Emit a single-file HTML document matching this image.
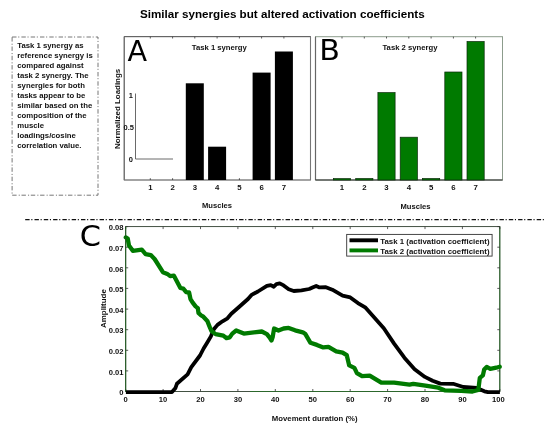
<!DOCTYPE html>
<html><head><meta charset="utf-8"><title>Figure</title>
<style>html,body{margin:0;padding:0;background:#fff;width:550px;height:429px;overflow:hidden}</style></head>
<body>
<svg width="550" height="429" viewBox="0 0 550 429" style="position:absolute;left:0;top:0;font-family:'Liberation Sans',Arial,sans-serif;font-weight:bold">
<rect width="550" height="429" fill="#fff"/>
<text x="282.3" y="18.2" font-size="11.65" text-anchor="middle" fill="#000">Similar synergies but altered activation coefficients</text>
<rect x="12.1" y="37" width="85.9" height="158.2" fill="none" stroke="#4a4a4a" stroke-width="0.75" stroke-dasharray="4.4 1.7 1.1 2.1"/>
<text x="17.3" y="47.9" font-size="7.75" fill="#111">Task 1 synergy as</text>
<text x="17.3" y="57.9" font-size="7.75" fill="#111">reference synergy is</text>
<text x="17.3" y="67.9" font-size="7.75" fill="#111">compared against</text>
<text x="17.3" y="77.9" font-size="7.75" fill="#111">task 2 synergy. The</text>
<text x="17.3" y="87.9" font-size="7.75" fill="#111">synergies for both</text>
<text x="17.3" y="97.9" font-size="7.75" fill="#111">tasks appear to be</text>
<text x="17.3" y="107.9" font-size="7.75" fill="#111">similar based on the</text>
<text x="17.3" y="117.9" font-size="7.75" fill="#111">composition of the</text>
<text x="17.3" y="127.9" font-size="7.75" fill="#111">muscle</text>
<text x="17.3" y="137.9" font-size="7.75" fill="#111">loadings/cosine</text>
<text x="17.3" y="147.9" font-size="7.75" fill="#111">correlation value.</text>
<line x1="25.2" y1="219.6" x2="544.5" y2="219.6" stroke="#111" stroke-width="1.2" stroke-dasharray="4.4 1.7 1.1 2.1"/>
<rect x="124.3" y="36.7" width="186.2" height="143.3" fill="#fff" stroke="#333" stroke-width="0.9"/>
<line x1="124.3" y1="36.7" x2="124.3" y2="180.0" stroke="#777" stroke-width="1.3"/>
<line x1="310.5" y1="36.7" x2="310.5" y2="180.0" stroke="#777" stroke-width="1.1"/>
<line x1="150.3" y1="36.7" x2="150.3" y2="38.5" stroke="#333" stroke-width="0.8"/>
<line x1="150.3" y1="180.0" x2="150.3" y2="178.2" stroke="#333" stroke-width="0.8"/>
<line x1="172.6" y1="36.7" x2="172.6" y2="38.5" stroke="#333" stroke-width="0.8"/>
<line x1="172.6" y1="180.0" x2="172.6" y2="178.2" stroke="#333" stroke-width="0.8"/>
<line x1="194.8" y1="36.7" x2="194.8" y2="38.5" stroke="#333" stroke-width="0.8"/>
<line x1="194.8" y1="180.0" x2="194.8" y2="178.2" stroke="#333" stroke-width="0.8"/>
<line x1="217.1" y1="36.7" x2="217.1" y2="38.5" stroke="#333" stroke-width="0.8"/>
<line x1="217.1" y1="180.0" x2="217.1" y2="178.2" stroke="#333" stroke-width="0.8"/>
<line x1="239.4" y1="36.7" x2="239.4" y2="38.5" stroke="#333" stroke-width="0.8"/>
<line x1="239.4" y1="180.0" x2="239.4" y2="178.2" stroke="#333" stroke-width="0.8"/>
<line x1="261.6" y1="36.7" x2="261.6" y2="38.5" stroke="#333" stroke-width="0.8"/>
<line x1="261.6" y1="180.0" x2="261.6" y2="178.2" stroke="#333" stroke-width="0.8"/>
<line x1="283.9" y1="36.7" x2="283.9" y2="38.5" stroke="#333" stroke-width="0.8"/>
<line x1="283.9" y1="180.0" x2="283.9" y2="178.2" stroke="#333" stroke-width="0.8"/>
<rect x="185.8" y="83.3" width="18" height="96.7" fill="#000"/>
<rect x="208.1" y="146.7" width="18" height="33.3" fill="#000"/>
<rect x="252.6" y="72.6" width="18" height="107.4" fill="#000"/>
<rect x="274.9" y="51.5" width="18" height="128.5" fill="#000"/>
<text x="150.3" y="190.4" font-size="7.8" text-anchor="middle" fill="#111">1</text>
<text x="172.6" y="190.4" font-size="7.8" text-anchor="middle" fill="#111">2</text>
<text x="194.8" y="190.4" font-size="7.8" text-anchor="middle" fill="#111">3</text>
<text x="217.1" y="190.4" font-size="7.8" text-anchor="middle" fill="#111">4</text>
<text x="239.4" y="190.4" font-size="7.8" text-anchor="middle" fill="#111">5</text>
<text x="261.6" y="190.4" font-size="7.8" text-anchor="middle" fill="#111">6</text>
<text x="283.9" y="190.4" font-size="7.8" text-anchor="middle" fill="#111">7</text>
<text x="217" y="208.4" font-size="7.6" text-anchor="middle" fill="#111">Muscles</text>
<text x="219.3" y="50" font-size="7.7" text-anchor="middle" fill="#111">Task 1 synergy</text>
<text x="127.4" y="60.8" font-size="28.6" font-weight="normal" font-family="'DejaVu Sans',sans-serif" fill="#000">A</text>
<text transform="translate(120,108.9) rotate(-90)" font-size="7.95" text-anchor="middle" fill="#111">Normalized Loadings</text>
<path d="M135.5,93.5 V159 H173" fill="none" stroke="#444" stroke-width="0.8"/>
<text x="133" y="97.8" font-size="7.5" text-anchor="end" fill="#111">1</text>
<text x="134" y="130" font-size="7.5" text-anchor="end" fill="#111">0.5</text>
<text x="133" y="162" font-size="7.5" text-anchor="end" fill="#111">0</text>
<rect x="315.5" y="36.7" width="187.0" height="143.3" fill="#fff" stroke="#8c9c8c" stroke-width="1"/>
<line x1="315.5" y1="36.7" x2="315.5" y2="180.0" stroke="#666" stroke-width="1.2"/>
<line x1="315.5" y1="180.0" x2="502.5" y2="180.0" stroke="#222" stroke-width="1"/>
<line x1="342.0" y1="36.7" x2="342.0" y2="38.5" stroke="#333" stroke-width="0.8"/>
<line x1="364.3" y1="36.7" x2="364.3" y2="38.5" stroke="#333" stroke-width="0.8"/>
<line x1="386.5" y1="36.7" x2="386.5" y2="38.5" stroke="#333" stroke-width="0.8"/>
<line x1="408.8" y1="36.7" x2="408.8" y2="38.5" stroke="#333" stroke-width="0.8"/>
<line x1="431.1" y1="36.7" x2="431.1" y2="38.5" stroke="#333" stroke-width="0.8"/>
<line x1="453.4" y1="36.7" x2="453.4" y2="38.5" stroke="#333" stroke-width="0.8"/>
<line x1="475.6" y1="36.7" x2="475.6" y2="38.5" stroke="#333" stroke-width="0.8"/>
<rect x="333.4" y="178.6" width="17.2" height="1.4" fill="#007a00" stroke="#0a2a0a" stroke-width="0.7"/>
<rect x="355.7" y="178.5" width="17.2" height="1.5" fill="#007a00" stroke="#0a2a0a" stroke-width="0.7"/>
<rect x="377.9" y="92.6" width="17.2" height="87.4" fill="#007a00" stroke="#0a2a0a" stroke-width="0.7"/>
<rect x="400.2" y="137.2" width="17.2" height="42.8" fill="#007a00" stroke="#0a2a0a" stroke-width="0.7"/>
<rect x="422.5" y="178.5" width="17.2" height="1.5" fill="#007a00" stroke="#0a2a0a" stroke-width="0.7"/>
<rect x="444.8" y="72" width="17.2" height="108.0" fill="#007a00" stroke="#0a2a0a" stroke-width="0.7"/>
<rect x="467.0" y="41.5" width="17.2" height="138.5" fill="#007a00" stroke="#0a2a0a" stroke-width="0.7"/>
<text x="342.0" y="190.4" font-size="7.8" text-anchor="middle" fill="#111">1</text>
<text x="364.3" y="190.4" font-size="7.8" text-anchor="middle" fill="#111">2</text>
<text x="386.5" y="190.4" font-size="7.8" text-anchor="middle" fill="#111">3</text>
<text x="408.8" y="190.4" font-size="7.8" text-anchor="middle" fill="#111">4</text>
<text x="431.1" y="190.4" font-size="7.8" text-anchor="middle" fill="#111">5</text>
<text x="453.4" y="190.4" font-size="7.8" text-anchor="middle" fill="#111">6</text>
<text x="475.6" y="190.4" font-size="7.8" text-anchor="middle" fill="#111">7</text>
<text x="415.5" y="208.8" font-size="7.6" text-anchor="middle" fill="#111">Muscles</text>
<text x="410" y="50" font-size="7.7" text-anchor="middle" fill="#111">Task 2 synergy</text>
<text transform="translate(319.2,59.7) scale(1.055,1)" font-size="28.6" font-weight="normal" font-family="'DejaVu Sans',sans-serif" fill="#000">B</text>
<rect x="125.7" y="226.6" width="374.1" height="164.9" fill="#fff" stroke="#2f3f2f" stroke-width="0.9"/>
<line x1="499.8" y1="226.6" x2="499.8" y2="391.5" stroke="#2a6a2a" stroke-width="0.9"/>
<line x1="250" y1="391.5" x2="499.8" y2="391.5" stroke="#2a6a2a" stroke-width="0.9"/>
<line x1="125.7" y1="226.6" x2="125.7" y2="229.1" stroke="#333" stroke-width="0.8"/>
<line x1="125.7" y1="391.5" x2="125.7" y2="389.0" stroke="#333" stroke-width="0.8"/>
<text x="125.7" y="402.3" font-size="7.6" text-anchor="middle" fill="#111">0</text>
<line x1="163.1" y1="226.6" x2="163.1" y2="229.1" stroke="#333" stroke-width="0.8"/>
<line x1="163.1" y1="391.5" x2="163.1" y2="389.0" stroke="#333" stroke-width="0.8"/>
<text x="163.1" y="402.3" font-size="7.6" text-anchor="middle" fill="#111">10</text>
<line x1="200.5" y1="226.6" x2="200.5" y2="229.1" stroke="#333" stroke-width="0.8"/>
<line x1="200.5" y1="391.5" x2="200.5" y2="389.0" stroke="#333" stroke-width="0.8"/>
<text x="200.5" y="402.3" font-size="7.6" text-anchor="middle" fill="#111">20</text>
<line x1="237.9" y1="226.6" x2="237.9" y2="229.1" stroke="#333" stroke-width="0.8"/>
<line x1="237.9" y1="391.5" x2="237.9" y2="389.0" stroke="#333" stroke-width="0.8"/>
<text x="237.9" y="402.3" font-size="7.6" text-anchor="middle" fill="#111">30</text>
<line x1="275.3" y1="226.6" x2="275.3" y2="229.1" stroke="#333" stroke-width="0.8"/>
<line x1="275.3" y1="391.5" x2="275.3" y2="389.0" stroke="#333" stroke-width="0.8"/>
<text x="275.3" y="402.3" font-size="7.6" text-anchor="middle" fill="#111">40</text>
<line x1="312.8" y1="226.6" x2="312.8" y2="229.1" stroke="#333" stroke-width="0.8"/>
<line x1="312.8" y1="391.5" x2="312.8" y2="389.0" stroke="#333" stroke-width="0.8"/>
<text x="312.8" y="402.3" font-size="7.6" text-anchor="middle" fill="#111">50</text>
<line x1="350.2" y1="226.6" x2="350.2" y2="229.1" stroke="#333" stroke-width="0.8"/>
<line x1="350.2" y1="391.5" x2="350.2" y2="389.0" stroke="#333" stroke-width="0.8"/>
<text x="350.2" y="402.3" font-size="7.6" text-anchor="middle" fill="#111">60</text>
<line x1="387.6" y1="226.6" x2="387.6" y2="229.1" stroke="#333" stroke-width="0.8"/>
<line x1="387.6" y1="391.5" x2="387.6" y2="389.0" stroke="#333" stroke-width="0.8"/>
<text x="387.6" y="402.3" font-size="7.6" text-anchor="middle" fill="#111">70</text>
<line x1="425.0" y1="226.6" x2="425.0" y2="229.1" stroke="#333" stroke-width="0.8"/>
<line x1="425.0" y1="391.5" x2="425.0" y2="389.0" stroke="#333" stroke-width="0.8"/>
<text x="425.0" y="402.3" font-size="7.6" text-anchor="middle" fill="#111">80</text>
<line x1="462.4" y1="226.6" x2="462.4" y2="229.1" stroke="#333" stroke-width="0.8"/>
<line x1="462.4" y1="391.5" x2="462.4" y2="389.0" stroke="#333" stroke-width="0.8"/>
<text x="462.4" y="402.3" font-size="7.6" text-anchor="middle" fill="#111">90</text>
<line x1="499.8" y1="226.6" x2="499.8" y2="229.1" stroke="#333" stroke-width="0.8"/>
<line x1="499.8" y1="391.5" x2="499.8" y2="389.0" stroke="#333" stroke-width="0.8"/>
<text x="498.4" y="402.3" font-size="7.6" text-anchor="middle" fill="#111">100</text>
<line x1="125.7" y1="391.5" x2="128.2" y2="391.5" stroke="#333" stroke-width="0.8"/>
<line x1="499.8" y1="391.5" x2="497.3" y2="391.5" stroke="#333" stroke-width="0.8"/>
<text x="123.5" y="395.2" font-size="7.6" text-anchor="end" fill="#111">0</text>
<line x1="125.7" y1="370.9" x2="128.2" y2="370.9" stroke="#333" stroke-width="0.8"/>
<line x1="499.8" y1="370.9" x2="497.3" y2="370.9" stroke="#333" stroke-width="0.8"/>
<text x="123.5" y="374.6" font-size="7.6" text-anchor="end" fill="#111">0.01</text>
<line x1="125.7" y1="350.3" x2="128.2" y2="350.3" stroke="#333" stroke-width="0.8"/>
<line x1="499.8" y1="350.3" x2="497.3" y2="350.3" stroke="#333" stroke-width="0.8"/>
<text x="123.5" y="354.0" font-size="7.6" text-anchor="end" fill="#111">0.02</text>
<line x1="125.7" y1="329.7" x2="128.2" y2="329.7" stroke="#333" stroke-width="0.8"/>
<line x1="499.8" y1="329.7" x2="497.3" y2="329.7" stroke="#333" stroke-width="0.8"/>
<text x="123.5" y="333.4" font-size="7.6" text-anchor="end" fill="#111">0.03</text>
<line x1="125.7" y1="309.1" x2="128.2" y2="309.1" stroke="#333" stroke-width="0.8"/>
<line x1="499.8" y1="309.1" x2="497.3" y2="309.1" stroke="#333" stroke-width="0.8"/>
<text x="123.5" y="312.8" font-size="7.6" text-anchor="end" fill="#111">0.04</text>
<line x1="125.7" y1="288.4" x2="128.2" y2="288.4" stroke="#333" stroke-width="0.8"/>
<line x1="499.8" y1="288.4" x2="497.3" y2="288.4" stroke="#333" stroke-width="0.8"/>
<text x="123.5" y="292.1" font-size="7.6" text-anchor="end" fill="#111">0.05</text>
<line x1="125.7" y1="267.8" x2="128.2" y2="267.8" stroke="#333" stroke-width="0.8"/>
<line x1="499.8" y1="267.8" x2="497.3" y2="267.8" stroke="#333" stroke-width="0.8"/>
<text x="123.5" y="271.5" font-size="7.6" text-anchor="end" fill="#111">0.06</text>
<line x1="125.7" y1="247.2" x2="128.2" y2="247.2" stroke="#333" stroke-width="0.8"/>
<line x1="499.8" y1="247.2" x2="497.3" y2="247.2" stroke="#333" stroke-width="0.8"/>
<text x="123.5" y="250.9" font-size="7.6" text-anchor="end" fill="#111">0.07</text>
<line x1="125.7" y1="226.6" x2="128.2" y2="226.6" stroke="#333" stroke-width="0.8"/>
<line x1="499.8" y1="226.6" x2="497.3" y2="226.6" stroke="#333" stroke-width="0.8"/>
<text x="123.5" y="230.3" font-size="7.6" text-anchor="end" fill="#111">0.08</text>
<text transform="translate(106.2,308.6) rotate(-90)" font-size="7.95" text-anchor="middle" fill="#111">Amplitude</text>
<text x="314.7" y="421.3" font-size="7.75" text-anchor="middle" fill="#111">Movement duration (%)</text>
<text transform="translate(79.7,245.8) scale(1.064,1)" font-size="28.6" font-weight="normal" font-family="'DejaVu Sans',sans-serif" fill="#000">C</text>
<path d="M125.9,392.1 L172.0,392.1 L175.3,388.3 L176.9,383.8 L187.6,374.4 L191.3,367.2 L200.0,355.5 L203.6,348.5 L207.3,342.5 L210.9,336.4 L213.8,329.3 L217.5,324.9 L222.5,321.3 L227.5,318.3 L231.3,313.8 L239.3,306.8 L248.0,299.0 L251.5,294.9 L257.9,291.5 L266.9,285.9 L270.8,285.1 L273.8,286.7 L276.4,284.1 L279.7,283.3 L283.6,285.4 L288.7,289.2 L293.8,291.0 L301.5,290.3 L309.2,289.0 L313.1,287.2 L316.2,285.9 L319.5,287.4 L325.9,287.2 L332.3,289.7 L342.6,295.6 L350.3,297.4 L357.9,303.1 L365.6,307.7 L373.6,316.7 L383.8,328.2 L394.1,343.6 L404.4,357.7 L414.6,369.2 L424.9,376.9 L432.6,380.8 L440.3,383.6 L453.1,383.8 L463.3,387.0 L476.7,387.9 L484.4,391.3 L488.0,392.1 L499.9,392.1" fill="none" stroke="#000" stroke-width="3.8" stroke-linejoin="round" stroke-linecap="butt"/>
<path d="M125.8,237.4 L127.7,238.5 L129.0,245.6 L132.8,250.8 L141.8,249.7 L145.6,254.1 L150.8,255.1 L154.6,259.0 L162.9,272.2 L167.3,273.9 L170.2,276.1 L173.8,275.6 L180.4,288.0 L183.3,288.6 L186.2,292.1 L189.1,292.5 L190.5,299.1 L192.7,302.7 L195.6,306.4 L197.8,308.1 L198.5,312.9 L200.7,315.1 L202.9,316.3 L207.3,320.9 L210.2,328.2 L211.5,331.0 L215.6,334.1 L223.3,335.6 L226.4,338.2 L229.7,337.4 L232.3,333.6 L236.2,330.5 L243.8,333.6 L261.8,331.5 L266.9,334.1 L269.5,337.4 L271.5,340.5 L272.6,337.4 L274.1,328.5 L278.5,330.5 L283.6,328.5 L288.7,327.9 L295.1,330.3 L302.8,332.3 L305.4,334.1 L310.5,342.8 L316.9,344.9 L323.3,347.4 L328.5,346.9 L336.2,351.3 L342.6,352.6 L346.7,355.1 L349.2,365.4 L354.4,367.9 L356.9,373.1 L362.1,376.2 L369.7,375.6 L381.3,382.6 L394.1,382.6 L409.5,384.6 L413.3,383.8 L425.4,385.6 L438.2,387.7 L444.6,390.3 L461.3,390.8 L472.5,391.5 L478.3,390.0 L479.8,377.9 L482.9,375.4 L484.2,369.5 L486.7,366.9 L490.3,368.8 L496.2,367.7 L499.7,366.7" fill="none" stroke="#007a00" stroke-width="4.3" stroke-linejoin="round" stroke-linecap="round"/>
<line x1="125.7" y1="226.6" x2="125.7" y2="391.5" stroke="#1a5a1a" stroke-width="0.9"/>
<rect x="346.7" y="234.4" width="145.4" height="21.7" fill="#fff" stroke="#333" stroke-width="0.9"/>
<line x1="349.5" y1="240.3" x2="378" y2="240.3" stroke="#000" stroke-width="3.9"/>
<line x1="349.5" y1="250.4" x2="378" y2="250.4" stroke="#007a00" stroke-width="3.9"/>
<text x="380.3" y="243.7" font-size="7.85" fill="#111">Task 1 (activation coefficient)</text>
<text x="380.3" y="253.7" font-size="7.85" fill="#111">Task 2 (activation coefficient)</text>
</svg>
</body></html>
